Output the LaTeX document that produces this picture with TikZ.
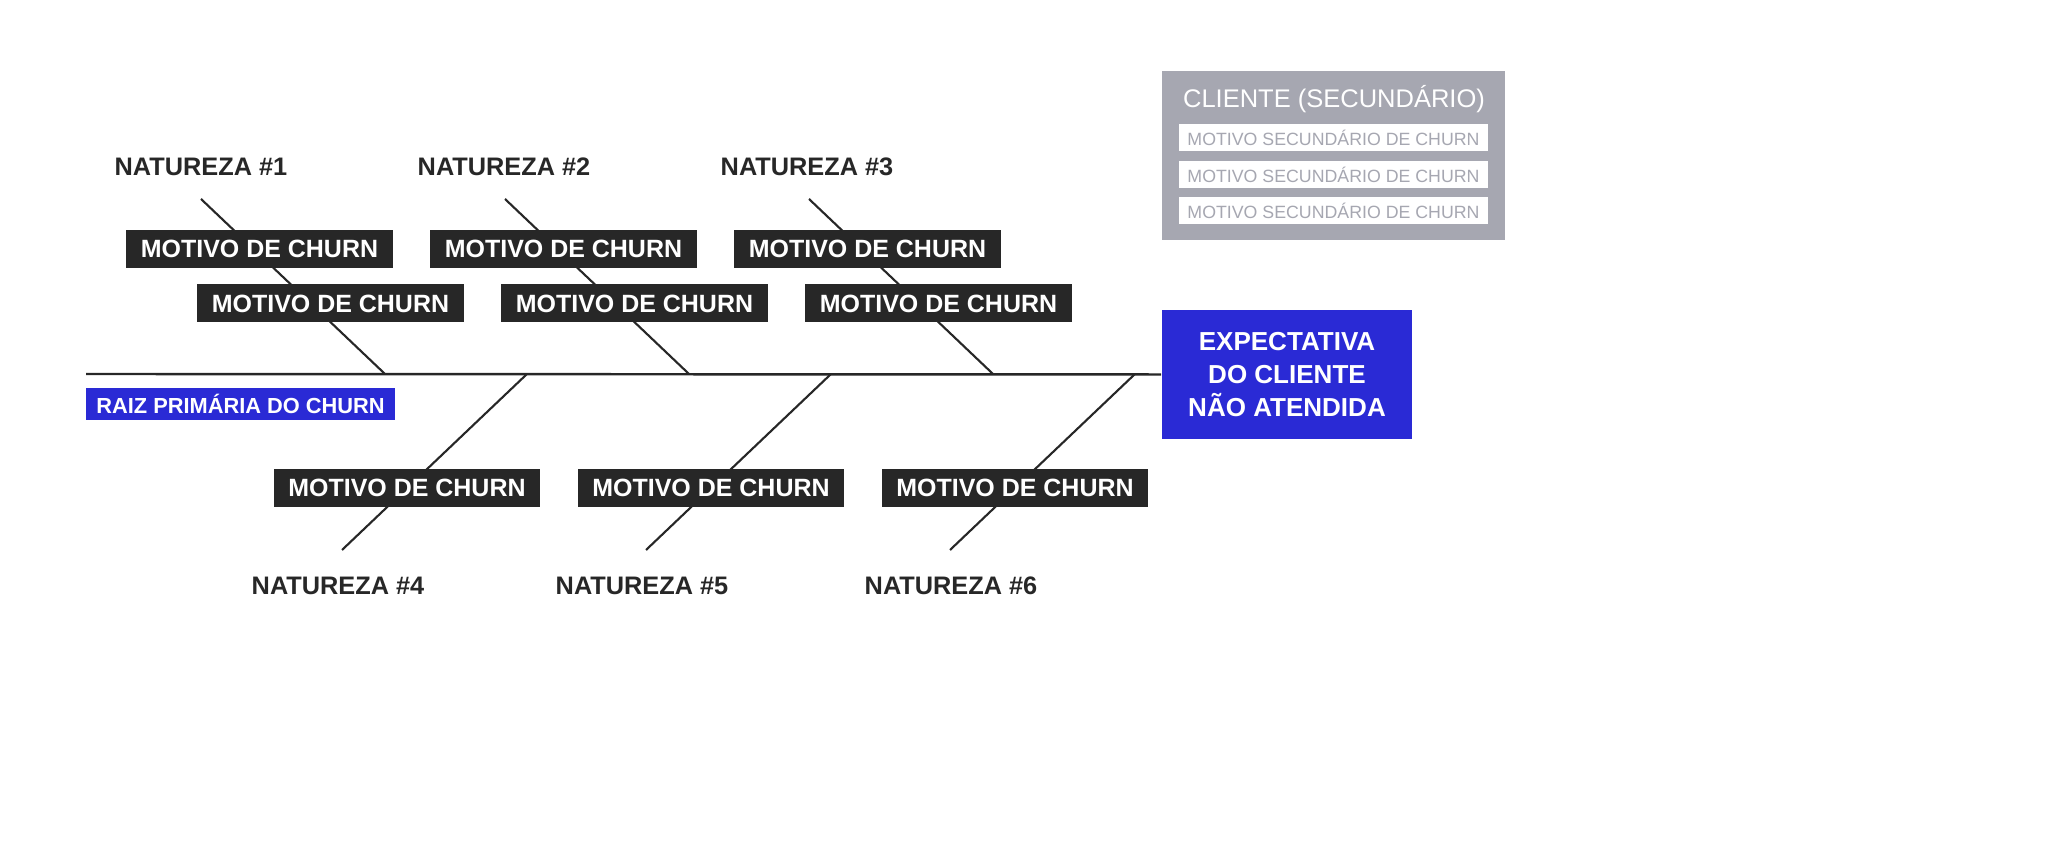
\documentclass[tikz,border=0pt]{standalone}
\usepackage{fontspec}
\setmainfont{Liberation Sans}
\definecolor{ink}{HTML}{272727}
\definecolor{royal}{HTML}{2A2AD5}
\definecolor{slate}{HTML}{A6A7B1}
\pgfdeclarelayer{bg}
\pgfsetlayers{bg,main}

\begin{document}
\begin{tikzpicture}[
    x=0.01cm, y=-0.01cm,
    motivo/.style={rectangle,fill=ink,text=white,font=\bfseries\fontsize{7.1}{8.5}\selectfont,minimum width=2.66cm,minimum height=0.38cm,inner sep=0pt},
    natureza/.style={text=ink,font=\bfseries\fontsize{7.2}{8.6}\selectfont,inner sep=0pt},
    secundario/.style={rectangle,fill=white,text=slate,font=\fontsize{5.05}{6}\selectfont,minimum width=3.09cm,minimum height=0.27cm,inner sep=0pt},
    bone/.style={draw=ink,line width=0.6pt},
    spine/.style={draw=ink,line width=0.7pt}
  ]
    \useasboundingbox (0,0) rectangle (2048,862);

    % efeito e raiz
    \node[rectangle,fill=royal,text=white,align=center,font=\bfseries\fontsize{7.4}{9.4}\selectfont,minimum width=2.5cm,minimum height=1.29cm,inner sep=0pt] (efeito) at (1287,374.5) {EXPECTATIVA\\DO CLIENTE\\NÃO ATENDIDA};
    \node[rectangle,fill=royal,text=white,font=\bfseries\fontsize{6.2}{7.4}\selectfont,minimum width=3.09cm,minimum height=0.32cm,inner sep=0pt] (raiz) at (240.5,404) {RAIZ PRIMÁRIA DO CHURN};

    % legenda
    \node[rectangle,fill=slate,minimum width=3.43cm,minimum height=1.69cm,inner sep=0pt] (legenda) at (1333.5,155.5) {};
    \node[text=white,font=\fontsize{7.25}{8.7}\selectfont,inner sep=0pt] (titulo) at (1334,99) {CLIENTE (SECUNDÁRIO)};
    \node[secundario] (sec1) at (1333.5,137.5) {MOTIVO SECUNDÁRIO DE CHURN};
    \node[secundario] (sec2) at (1333.5,174.5) {MOTIVO SECUNDÁRIO DE CHURN};
    \node[secundario] (sec3) at (1333.5,210.5) {MOTIVO SECUNDÁRIO DE CHURN};

    % naturezas
    \node[natureza] (nat1) at (201,167) {NATUREZA \#1};
    \node[natureza] (nat2) at (504,167) {NATUREZA \#2};
    \node[natureza] (nat3) at (807,167) {NATUREZA \#3};
    \node[natureza] (nat4) at (338,586) {NATUREZA \#4};
    \node[natureza] (nat5) at (642,586) {NATUREZA \#5};
    \node[natureza] (nat6) at (951,586) {NATUREZA \#6};

    % motivos
    \node[motivo] (m1a) at (259.5,249) {MOTIVO DE CHURN};
    \node[motivo] (m1b) at (330.5,303.5) {MOTIVO DE CHURN};
    \node[motivo] (m2a) at (563.5,249) {MOTIVO DE CHURN};
    \node[motivo] (m2b) at (634.5,303.5) {MOTIVO DE CHURN};
    \node[motivo] (m3a) at (867.5,249) {MOTIVO DE CHURN};
    \node[motivo] (m3b) at (938.5,303.5) {MOTIVO DE CHURN};
    \node[motivo] (m4) at (407,488) {MOTIVO DE CHURN};
    \node[motivo] (m5) at (711,488) {MOTIVO DE CHURN};
    \node[motivo] (m6) at (1015,488) {MOTIVO DE CHURN};

    % pontas e juntas das espinhas
    \coordinate (cauda) at (86,374);
    \coordinate (tip1) at (201,199);
    \coordinate (tip2) at (505,199);
    \coordinate (tip3) at (809,199);
    \coordinate (tip4) at (342,550);
    \coordinate (tip5) at (646,550);
    \coordinate (tip6) at (950,550);
    \coordinate (j1) at (385,374);
    \coordinate (j2) at (689,374);
    \coordinate (j3) at (993,374);
    \coordinate (j4) at (527,374);
    \coordinate (j5) at (831,374);
    \coordinate (j6) at (1135,374);

    \begin{pgfonlayer}{bg}
      \draw[spine] (cauda) -- (efeito.west);
      \draw[bone] (tip1) -- (j1);
      \draw[bone] (tip2) -- (j2);
      \draw[bone] (tip3) -- (j3);
      \draw[bone] (tip4) -- (j4);
      \draw[bone] (tip5) -- (j5);
      \draw[bone] (tip6) -- (j6);
    \end{pgfonlayer}
  \end{tikzpicture}
\end{document}
